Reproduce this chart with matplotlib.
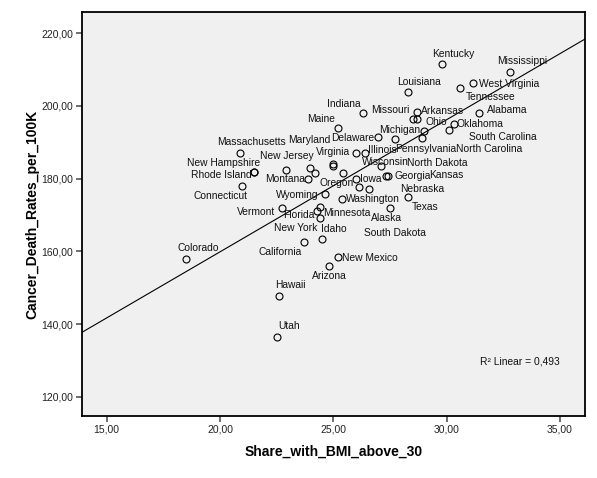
import numpy as np
import matplotlib
matplotlib.use("Agg")
import matplotlib.pyplot as plt
from matplotlib.ticker import FuncFormatter

plt.rcParams["font.family"] = ["Liberation Sans", "DejaVu Sans"]

# values (obesity share vs cancer death rate)
states = [
    "Kentucky", "Mississippi", "Louisiana", "Tennessee", "West Virginia",
    "Alabama", "Arkansas", "Missouri", "Ohio", "Michigan",
    "Oklahoma", "South Carolina", "Pennsylvania", "North Carolina", "Delaware",
    "Indiana", "Maine", "Massachusetts", "New Hampshire", "Rhode Island",
    "Connecticut", "New Jersey", "Maryland", "Nevada", "Montana",
    "Virginia", "Illinois", "District of Columbia", "South Dakota", "Oregon",
    "Wisconsin", "North Dakota", "Georgia", "Iowa", "Kansas",
    "Nebraska", "Wyoming", "Washington", "Texas", "Alaska",
    "Vermont", "Minnesota", "Florida", "New York", "California",
    "Idaho", "Colorado", "New Mexico", "Arizona", "Hawaii",
    "Utah",
]
bmi_share = [
    29.81, 32.81, 28.31, 30.60, 31.17,
    31.41, 28.70, 28.50, 28.69, 29.00,
    30.31, 30.10, 27.71, 28.91, 26.98,
    26.29, 25.22, 20.90, 21.51, 21.52,
    20.99, 22.91, 23.99, 24.20, 23.90,
    26.02, 26.41, 25.00, 25.00, 25.41,
    27.10, 27.34, 27.42, 25.98, 26.11,
    26.59, 24.61, 25.39, 28.31, 27.51,
    22.72, 24.41, 24.29, 24.41, 23.70,
    24.50, 18.50, 25.22, 24.81, 22.60,
    22.50,
]
cancer_rate = [
    211.47, 209.44, 203.77, 204.87, 206.24,
    197.99, 198.35, 196.34, 196.34, 193.20,
    194.97, 193.40, 191.00, 191.28, 191.55,
    197.99, 194.03, 186.99, 181.84, 181.85,
    178.05, 182.53, 183.08, 181.57, 179.83,
    186.99, 187.15, 184.04, 183.41, 181.49,
    183.36, 180.83, 180.83, 179.92, 177.58,
    177.11, 175.74, 174.36, 174.83, 172.02,
    172.02, 172.30, 171.20, 169.19, 162.59,
    163.47, 157.91, 158.54, 155.90, 147.81,
    136.53,
]
# SPSS fit line (slope, intercept) and its R² note
fit_slope = 3.636
fit_intercept = 87.16
r2_text = "R\u00b2 Linear = 0,493"

# where each point label sits relative to its marker, in pixels (right, down)
label_offsets = {
    "Kentucky": (11, -10), "Mississippi": (12, -11), "Louisiana": (11, -10),
    "Tennessee": (30, 9), "West Virginia": (36, 1), "Alabama": (29, -3),
    "Arkansas": (25, -1), "Missouri": (-22, -9), "Ohio": (19, 3),
    "Michigan": (-24, -1), "Oklahoma": (26, 0), "South Carolina": (54, 7),
    "Pennsylvania": (31, 10), "North Carolina": (67, 11), "Delaware": (-26, 1),
    "Indiana": (-19, -9), "Maine": (-17, -9), "Massachusetts": (11, -11),
    "New Hampshire": (-31, -9), "Rhode Island": (-33, 3), "Connecticut": (-22, 10),
    "New Jersey": (1, -14), "Maryland": (-1, -28), "Montana": (-23, 0),
    "Virginia": (-23, -1), "Illinois": (17, -3), "South Dakota": (62, 67),
    "Oregon": (-6, 10), "Wisconsin": (4, -4), "North Dakota": (51, -13),
    "Georgia": (24, 0), "Iowa": (15, 0), "Kansas": (88, -12),
    "Nebraska": (53, 0), "Wyoming": (-27, 1), "Washington": (31, 0),
    "Texas": (17, 10), "Alaska": (-4, 10), "Vermont": (-26, 4),
    "Minnesota": (27, 6), "Florida": (-18, 4), "New York": (-24, 10),
    "California": (-24, 10), "Idaho": (12, -10), "Colorado": (12, -11),
    "New Mexico": (32, 1), "Arizona": (0, 10), "Hawaii": (11, -11),
    "Utah": (12, -11),
}

fig = plt.figure(figsize=(5.97, 4.78), dpi=100)
ax = fig.add_axes([0.1369, 0.1297, 0.843, 0.8446])
ax.set_facecolor("#f0f0f0")
ax.set_xlim(13.9, 36.1)
ax.set_ylim(114.72, 225.78)

# fit line across the whole plot width
xs = np.array(ax.get_xlim())
ax.plot(xs, fit_intercept + fit_slope * xs, color="black", lw=0.8, zorder=2)

ax.plot(bmi_share, cancer_rate, "o", ms=5, mfc="none", mec="black", mew=0.8, zorder=3)

for name, x, y in zip(states, bmi_share, cancer_rate):
    off = label_offsets.get(name)
    if off is None:
        continue
    ax.annotate(name, (x, y), xytext=(off[0], -off[1]), textcoords="offset pixels",
                ha="center", va="center", fontsize=7.4, color="#111111", zorder=4)

ax.text(0.7914, 0.1362, r2_text, transform=ax.transAxes, ha="left", va="center",
        fontsize=7.4, color="#111111")

ax.set_xticks([15, 20, 25, 30, 35])
ax.set_yticks([120, 140, 160, 180, 200, 220])
fmt = FuncFormatter(lambda v, p: f"{v:.2f}".replace(".", ","))
ax.xaxis.set_major_formatter(fmt)
ax.yaxis.set_major_formatter(fmt)
ax.tick_params(direction="out", length=4, width=1.2, color="#555555",
               labelsize=7.5, labelcolor="#222222", pad=2)

for sp in ax.spines.values():
    sp.set_linewidth(1.3)
    sp.set_color("black")

fig.text(0.5586, 0.055, "Share_with_BMI_above_30", ha="center", va="center",
         fontsize=10, fontweight="bold")
fig.text(0.0536, 0.5523, "Cancer_Death_Rates_per_100K", ha="center", va="center",
         rotation=90, fontsize=10, fontweight="bold")

fig.savefig("out.png", dpi=100, facecolor="white")
